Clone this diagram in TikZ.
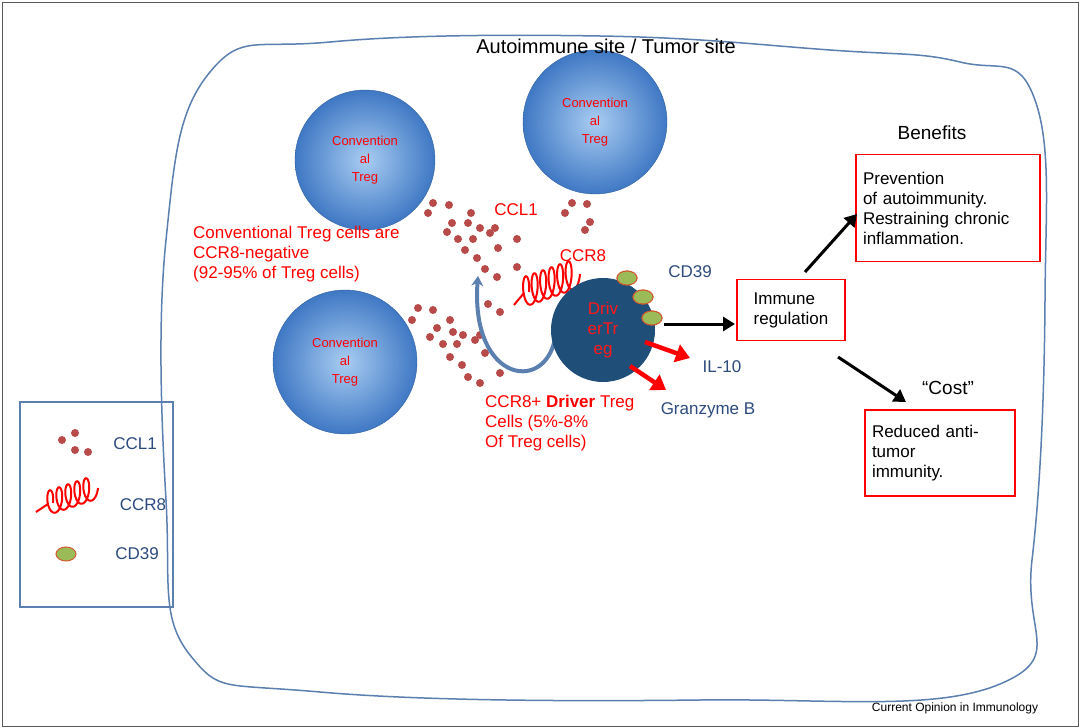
\documentclass[tikz,border=0pt]{standalone}
\usepackage{fontspec}
\setmainfont{Liberation Sans}
\usetikzlibrary{arrows.meta}
\definecolor{navy}{HTML}{2C4A7C}
\definecolor{cellblue}{HTML}{1F4E79}
\definecolor{dotred}{HTML}{B84A4A}
\definecolor{cdgreen}{HTML}{9BBB59}
\definecolor{blob}{HTML}{5B7FAF}
\definecolor{ballin}{HTML}{A9CDF2}
\definecolor{ballout}{HTML}{3F78C4}
\tikzset{
 lbl/.style={text=red,font=\fontsize{17}{20}\selectfont,align=left},
 blbl/.style={text=navy,font=\fontsize{17}{20}\selectfont,align=left},
 conv/.style={circle,minimum size=#1,inner color=ballin,outer color=ballout,draw=ballout!80!black,text=red,font=\fontsize{13}{18}\selectfont,align=center},
 dot/.style={fill=dotred,draw=none},
 cd/.style={fill=cdgreen,draw=brown!70!red,line width=1pt},
 rbox/.style={draw=red,line width=1.2pt,align=left,font=\fontsize{17}{20}\selectfont,inner sep=6pt},
 blk/.style={-{Triangle[length=12pt,width=14pt]},line width=3pt},
 redarr/.style={-{Triangle[length=14pt,width=18pt]},line width=4.5pt,red},
}
\begin{document}
\begin{tikzpicture}[x=1pt,y=-1pt]
\useasboundingbox (0,0) rectangle (1080,728);
\draw[gray!70!black,line width=1pt] (2,2) rectangle (1078,726);
\draw[blob,line width=1.5pt] plot[smooth cycle,tension=0.7] coordinates{(210,72) (330,42) (600,36) (830,50) (960,62) (1035,100) (1045,300) (1032,560) (1000,684) (700,700) (320,692) (190,655) (166,500) (166,240)};
\node[conv=140pt] (c1) at (365,160) {Convention\\al\\Treg};
\node[conv=144pt] (c2) at (595,122) {Convention\\al\\Treg};
\node[conv=144pt] (c3) at (345,362) {Convention\\al\\Treg};
\foreach \p in {(433,203),(449,205),(428,213),(471,213),(452,223),(468,223),(480,228),(495,228),(490,233),(447,232),(458,239),(473,239),(517,239),(465,250),(498,248),(477,258),(485,269),(497,277),(517,267),(572,203),(587,204),(565,213),(590,222),(585,230),(488,304),(500,312),(418,308),(433,310),(412,320),(450,320),(437,328),(453,332),(463,335),(480,335),(430,337),(475,340),(443,344),(457,344),(485,353),(450,357),(462,365),(500,373),(468,377),(480,383)}
 \fill[dot] \p circle (4);
\draw[blob,line width=4pt,-{Stealth[length=10pt,width=12pt]}] (556,332) .. controls (550,395) and (470,385) .. (478,276);
\draw[red,line width=2pt] plot[domain=0:2160,samples=300] ({524+\x/360*8.5+5*cos(\x)},{292-\x/360*3-15*sin(\x)});
\draw[red,line width=2pt] (514,305) -- (524,293);
\node[circle,fill=cellblue,minimum size=104pt,text=red!90!white,font=\fontsize{17}{20}\selectfont,align=center] (d) at (603,330) {Driv\\erTr\\eg};
\fill[cd] (627,278) ellipse (10 and 7);
\fill[cd] (643,297) ellipse (10 and 7);
\fill[cd] (652,318) ellipse (10 and 7);
\draw[cd] (627,278) ellipse (10 and 7) (643,297) ellipse (10 and 7) (652,318) ellipse (10 and 7);
\node[rbox,minimum width=108pt,minimum height=61pt] (ir) at (791,310) {Immune\\regulation};
\coordinate (irw) at (735,324);
\coordinate (ds) at (664,324);
\draw[blk] (ds) -- (irw);
\node[rbox,minimum width=184pt,minimum height=107pt,text width=170pt] (ben) at (948,208) {Prevention\\of autoimmunity.\\Restraining chronic\\inflammation.};
\node[rbox,minimum width=150pt,minimum height=86pt,text width=136pt] (cost) at (940,453) {Reduced anti-\\tumor\\immunity.};
\node[font=\fontsize{19}{22}\selectfont] (bt) at (932,133) {Benefits};
\node[font=\fontsize{19}{22}\selectfont] (ct) at (948,388) {“Cost”};
\coordinate (a1) at (805,272); \coordinate (a2) at (857,214);
\coordinate (b1) at (838,357); \coordinate (b2) at (906,402);
\draw[blk] (a1) -- (a2);
\draw[blk] (b1) -- (b2);
\coordinate (r1) at (645,342); \coordinate (r2) at (690,358);
\coordinate (r3) at (630,366); \coordinate (r4) at (666,390);
\draw[redarr] (r1) -- (r2);
\draw[redarr] (r3) -- (r4);
\node[font=\fontsize{20}{24}\selectfont] (title) at (606,46) {Autoimmune site / Tumor site};
\node[lbl] (l1) at (516,210) {CCL1};
\node[lbl,anchor=north west,inner sep=0] (l2) at (193,226) {Conventional Treg cells are\\CCR8-negative\\(92-95\% of Treg cells)};
\node[lbl] (l3) at (583,256) {CCR8};
\node[blbl] (l4) at (690,272) {CD39};
\node[blbl] (l5) at (722,367) {IL-10};
\node[blbl] (l6) at (708,410) {Granzyme B};
\node[lbl,anchor=north west,inner sep=0] (l7) at (485,395) {CCR8+ \textbf{Driver} Treg\\Cells (5\%-8\%\\Of Treg cells)};
\node[draw=blob,line width=1.5pt,minimum width=153pt,minimum height=205pt] (leg) at (96.5,504.5) {};
\foreach \p in {(62,440),(75,433),(75,450),(88,452)} \fill[dot] \p circle (4);
\node[blbl] at (135,444) {CCL1};
\draw[red,line width=2pt] plot[domain=0:1800,samples=250] ({48+\x/360*9+5*cos(\x)},{503-\x/360*3-12*sin(\x)});
\draw[red,line width=2pt] (36,512) -- (48,504);
\node[blbl] at (143,505) {CCR8};
\draw[cd] (66,554) ellipse (10 and 7);
\node[blbl] at (137,554) {CD39};
\node[font=\fontsize{12}{14}\selectfont] (foot) at (955,708) {Current Opinion in Immunology};
\end{tikzpicture}
\end{document}
